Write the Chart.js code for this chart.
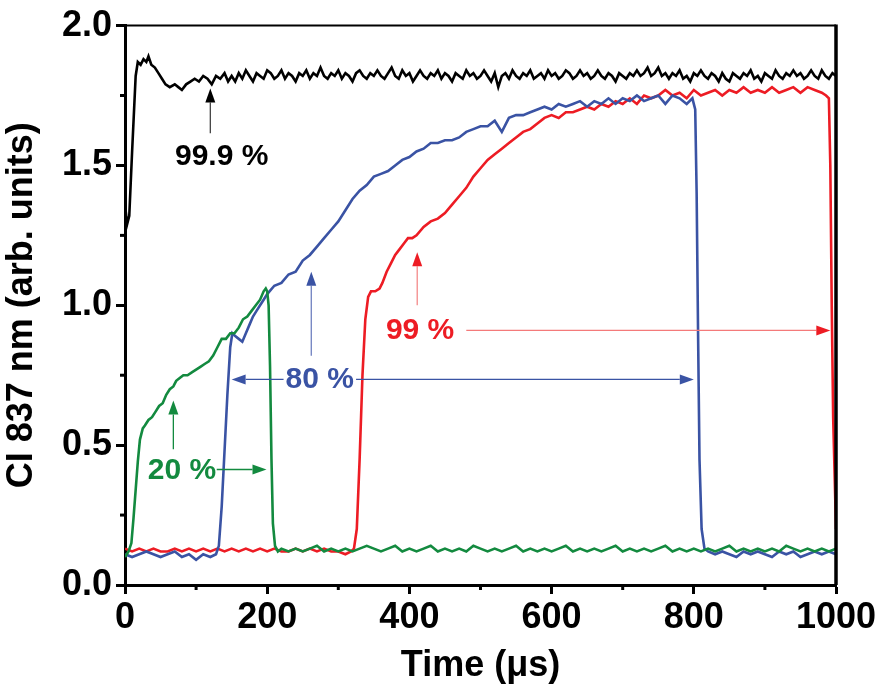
<!DOCTYPE html>
<html>
<head>
<meta charset="utf-8">
<script src="https://cdn.jsdelivr.net/npm/chart.js@4.4.1/dist/chart.umd.min.js"></script>
<style>
  body { margin: 0; background: #fff; }
  #wrap { width: 879px; height: 688px; }
</style>
</head>
<body>
<div id="wrap"><canvas id="ci"></canvas></div>
<script>
// time in µs, signal in arb. units
const blackT = [0,3,6,10,15,18,22,26,30,33,37,42,47,52,57,63,70,75,80,86,92,98,104,110,116,122,128,134,140,145,
  150,155,160,165,170,175,180,185,190,195,200,205,210,215,220,225,230,235,240,245,
  250,255,260,265,270,275,280,285,290,295,300,305,310,315,320,325,330,335,340,345,
  350,355,360,365,370,375,380,385,390,395,400,405,410,415,420,425,430,435,440,445,
  450,455,460,465,470,475,480,485,490,495,500,505,510,515,520,525,530,535,540,545,
  550,555,560,565,570,575,580,585,590,595,600,605,610,615,620,625,630,635,640,645,
  650,655,660,665,670,675,680,685,690,695,700,705,710,715,720,725,730,735,740,745,
  750,755,760,765,770,775,780,785,790,795,800,805,810,815,820,825,830,835,840,845,
  850,855,860,865,870,875,880,885,890,895,900,905,910,915,920,925,930,935,940,945,
  950,955,960,965,970,975,980,985,990,995,1000];
const blackV = [1.36,1.29,1.32,1.55,1.82,1.87,1.86,1.88,1.87,1.89,1.86,1.85,1.83,1.81,1.79,1.78,1.79,1.78,1.77,1.79,1.80,1.81,1.80,1.82,1.81,1.79,1.82,1.81,1.83,1.80,
  1.82,1.80,1.83,1.81,1.84,1.82,1.80,1.83,1.82,1.81,1.84,1.83,1.81,1.82,1.84,1.81,1.83,1.82,1.80,1.83,
  1.82,1.84,1.81,1.83,1.82,1.85,1.82,1.81,1.83,1.82,1.84,1.81,1.83,1.82,1.80,1.83,1.84,1.82,1.81,1.83,
  1.82,1.84,1.82,1.81,1.83,1.85,1.82,1.81,1.84,1.82,1.83,1.80,1.82,1.84,1.82,1.81,1.83,1.82,1.84,1.81,
  1.83,1.82,1.80,1.83,1.82,1.81,1.84,1.82,1.83,1.81,1.82,1.84,1.82,1.80,1.83,1.78,1.82,1.83,1.81,1.84,
  1.82,1.81,1.83,1.82,1.84,1.81,1.82,1.83,1.81,1.84,1.82,1.83,1.81,1.82,1.84,1.83,1.81,1.82,1.84,1.82,
  1.83,1.81,1.82,1.84,1.82,1.81,1.83,1.82,1.80,1.83,1.82,1.81,1.83,1.82,1.84,1.82,1.83,1.85,1.82,1.83,
  1.85,1.82,1.83,1.81,1.83,1.82,1.84,1.81,1.82,1.80,1.83,1.82,1.84,1.82,1.81,1.83,1.82,1.80,1.83,1.81,
  1.80,1.83,1.82,1.81,1.83,1.82,1.84,1.81,1.82,1.80,1.83,1.82,1.81,1.84,1.82,1.81,1.83,1.82,1.84,1.82,
  1.83,1.81,1.82,1.84,1.82,1.81,1.84,1.82,1.81,1.83,1.82];

const greenT = [0,5,9,12,15,18,21,25,28,33,38,43,48,53,58,63,68,72,77,82,88,94,100,106,112,118,124,130,136,142,148,154,160,166,172,178,184,190,195,198,200,202,204,206,208,211,215,220,
  230,240,250,260,270,280,290,300,310,320,330,340,350,360,370,380,390,400,410,420,430,440,450,460,470,480,490,
  500,510,520,530,540,550,560,570,580,590,600,610,620,630,640,650,660,670,680,690,700,710,720,730,740,750,
  760,770,780,790,800,810,820,830,840,850,860,870,880,890,900,910,920,930,940,950,960,970,980,990,1000];
const greenV = [0.10,0.12,0.15,0.24,0.34,0.44,0.52,0.56,0.57,0.59,0.60,0.62,0.64,0.65,0.68,0.70,0.71,0.73,0.74,0.75,0.75,0.76,0.77,0.78,0.79,0.80,0.82,0.85,0.88,0.88,0.90,0.90,0.92,0.95,0.96,0.98,1.00,1.02,1.05,1.06,1.05,1.00,0.78,0.45,0.22,0.14,0.12,0.13,
  0.12,0.13,0.12,0.13,0.14,0.12,0.13,0.12,0.13,0.12,0.13,0.14,0.13,0.12,0.13,0.14,0.12,0.13,0.12,0.13,0.14,0.12,0.13,0.12,0.13,0.12,0.14,
  0.13,0.12,0.13,0.12,0.13,0.14,0.12,0.13,0.12,0.13,0.12,0.13,0.14,0.12,0.13,0.12,0.13,0.12,0.13,0.14,0.12,0.13,0.12,0.13,0.12,0.13,
  0.14,0.12,0.13,0.12,0.13,0.12,0.13,0.12,0.13,0.14,0.12,0.13,0.12,0.13,0.12,0.13,0.12,0.14,0.13,0.12,0.13,0.12,0.13,0.12,0.13];

const blueT = [0,10,20,30,40,50,60,70,80,90,100,110,120,128,132,136,140,144,148,151,155,160,165,170,175,180,185,190,195,200,
  210,220,230,240,250,260,270,280,290,300,310,320,330,340,350,360,370,380,390,400,410,420,430,440,450,460,470,480,490,
  500,510,520,530,540,550,560,570,580,590,600,610,620,630,640,650,660,670,680,690,700,710,720,730,740,750,760,770,780,790,
  798,802,804,806,808,811,815,820,830,840,850,860,870,880,890,900,910,920,930,940,950,960,970,980,990,1000];
const blueV = [0.11,0.10,0.11,0.12,0.11,0.10,0.11,0.12,0.10,0.11,0.09,0.11,0.10,0.11,0.14,0.28,0.48,0.68,0.85,0.90,0.89,0.88,0.87,0.90,0.93,0.96,0.98,1.00,1.02,1.04,
  1.07,1.08,1.11,1.12,1.16,1.18,1.21,1.24,1.27,1.30,1.34,1.38,1.41,1.43,1.46,1.47,1.48,1.50,1.52,1.53,1.55,1.56,1.58,1.58,1.59,1.59,1.60,1.62,1.63,
  1.64,1.64,1.66,1.62,1.67,1.68,1.68,1.69,1.70,1.71,1.70,1.72,1.71,1.72,1.73,1.71,1.73,1.72,1.74,1.72,1.74,1.73,1.75,1.73,1.74,1.75,1.72,1.75,1.74,1.72,
  1.74,1.70,1.40,0.90,0.45,0.20,0.13,0.12,0.11,0.12,0.11,0.10,0.12,0.11,0.12,0.11,0.10,0.12,0.11,0.12,0.10,0.11,0.12,0.11,0.12,0.11];

const redT = [0,10,20,30,40,50,60,70,80,90,100,110,120,130,140,150,160,170,180,190,200,210,220,230,240,250,260,270,280,290,300,310,318,
  322,326,330,334,338,342,346,352,358,362,368,374,380,386,392,398,404,410,420,430,440,450,460,470,480,490,
  500,510,520,530,540,550,560,570,580,590,600,610,620,630,640,650,660,670,680,690,700,710,720,730,740,750,760,770,780,790,
  800,810,820,830,840,850,860,870,880,890,900,910,920,930,940,950,960,970,980,986,990,992,994,996,1000];
const redV = [0.13,0.12,0.13,0.12,0.13,0.12,0.12,0.13,0.12,0.13,0.12,0.13,0.12,0.13,0.12,0.13,0.12,0.13,0.12,0.13,0.12,0.13,0.12,0.12,0.13,0.12,0.13,0.12,0.13,0.12,0.12,0.11,0.12,
  0.13,0.20,0.45,0.75,0.95,1.03,1.05,1.05,1.06,1.08,1.12,1.15,1.18,1.20,1.22,1.24,1.24,1.25,1.28,1.30,1.31,1.33,1.36,1.39,1.42,1.46,
  1.49,1.52,1.54,1.56,1.58,1.60,1.62,1.63,1.65,1.67,1.68,1.67,1.69,1.69,1.70,1.71,1.70,1.72,1.71,1.73,1.72,1.74,1.72,1.75,1.74,1.75,1.77,1.75,1.76,1.74,
  1.77,1.75,1.76,1.77,1.75,1.77,1.76,1.78,1.76,1.77,1.76,1.78,1.76,1.77,1.78,1.76,1.78,1.77,1.76,1.75,1.74,1.50,1.00,0.60,0.20];

const xTicks = [0, 200, 400, 600, 800, 1000];
const xMinor = [100, 300, 500, 700, 900];
const yTicks = [0.0, 0.5, 1.0, 1.5, 2.0];
const yMinor = [0.25, 0.75, 1.25, 1.75];

const BLACK = "#000000", RED = "#ed1c24", BLUE = "#3a53a4", GREEN = "#138a3f";

// annotations in data units
const notes = [
    {text: "99.9 %", x: 136, y: 1.53, color: BLACK},
    {text: "20 %", x: 80, y: 0.41, color: GREEN},
    {text: "80 %", x: 274, y: 0.735, color: BLUE},
    {text: "99 %", x: 415, y: 0.91, color: RED}
];
const arrows = [
    {from: [120, 1.615], to: [120, 1.775], line: "#444", head: BLACK},
    {from: [68, 0.485], to: [68, 0.66], line: GREEN, head: GREEN},
    {from: [129, 0.413], to: [199, 0.413], line: GREEN, head: GREEN},
    {from: [262, 0.82], to: [262, 1.12], line: "#6f80c0", head: BLUE},
    {from: [223, 0.735], to: [150, 0.735], line: BLUE, head: BLUE},
    {from: [325, 0.735], to: [800, 0.735], line: BLUE, head: BLUE},
    {from: [411, 1.0], to: [411, 1.19], line: "#f48a8a", head: RED},
    {from: [480, 0.91], to: [992, 0.91], line: "#f47a7a", head: RED}
];

const toXY = (ts, vs)=> ts.map((t, i)=> ({x: t, y: vs[i]}));

const line = (label, ts, vs, color, order)=> ({
    label: label,
    data: toXY(ts, vs),
    borderColor: color,
    borderWidth: 2.6,
    pointRadius: 0,
    tension: 0,
    order: order
});

const extras = {
    id: "extras",
    afterDatasetsDraw(chart) {
        const ctx = chart.ctx, a = chart.chartArea;
        const sx = chart.scales.x, sy = chart.scales.y;
        ctx.save();
        // box: top and right
        ctx.strokeStyle = BLACK;
        ctx.lineWidth = 2;
        ctx.beginPath();
        ctx.moveTo(a.left, a.top);
        ctx.lineTo(a.right, a.top);
        ctx.stroke();
        ctx.lineWidth = 3.5;
        ctx.beginPath();
        ctx.moveTo(a.right, a.top - 1);
        ctx.lineTo(a.right, a.bottom);
        ctx.stroke();
        // minor ticks
        ctx.lineWidth = 3;
        xMinor.forEach(v=> {
            const px = sx.getPixelForValue(v);
            ctx.beginPath();
            ctx.moveTo(px, a.bottom);
            ctx.lineTo(px, a.bottom + 5);
            ctx.stroke();
        });
        yMinor.forEach(v=> {
            const py = sy.getPixelForValue(v);
            ctx.beginPath();
            ctx.moveTo(a.left, py);
            ctx.lineTo(a.left - 5, py);
            ctx.stroke();
        });
        // arrows
        arrows.forEach(ar=> {
            const x0 = sx.getPixelForValue(ar.from[0]), y0 = sy.getPixelForValue(ar.from[1]);
            const x1 = sx.getPixelForValue(ar.to[0]), y1 = sy.getPixelForValue(ar.to[1]);
            const ang = Math.atan2(y1 - y0, x1 - x0);
            const hl = 14, hw = 5;
            const bx = x1 - hl * Math.cos(ang), by = y1 - hl * Math.sin(ang);
            ctx.strokeStyle = ar.line;
            ctx.lineWidth = 1.3;
            ctx.beginPath();
            ctx.moveTo(x0, y0);
            ctx.lineTo(bx, by);
            ctx.stroke();
            ctx.fillStyle = ar.head;
            ctx.beginPath();
            ctx.moveTo(x1, y1);
            ctx.lineTo(bx + hw * Math.sin(ang), by - hw * Math.cos(ang));
            ctx.lineTo(bx - hw * Math.sin(ang), by + hw * Math.cos(ang));
            ctx.closePath();
            ctx.fill();
        });
        // labels
        ctx.font = "bold 30px 'Liberation Sans', Arial, sans-serif";
        ctx.textAlign = "center";
        ctx.textBaseline = "middle";
        notes.forEach(n=> {
            ctx.fillStyle = n.color;
            ctx.fillText(n.text, sx.getPixelForValue(n.x), sy.getPixelForValue(n.y));
        });
        ctx.restore();
    }
};

const tickFont = {family: "'Liberation Sans', Arial, sans-serif", size: 36, weight: "bold"};

new Chart("ci", {
    type: "line",
    data: {
        datasets: [
            line("99.9 %", blackT, blackV, BLACK, 3),
            line("99 %", redT, redV, RED, 2),
            line("80 %", blueT, blueV, BLUE, 1),
            line("20 %", greenT, greenV, GREEN, 0)
        ]
    },
    options: {
        responsive: true,
        maintainAspectRatio: false,
        animation: false,
        layout: {padding: {top: 19, right: 43, left: 0, bottom: 0}},
        plugins: {legend: {display: false}, tooltip: {enabled: false}},
        scales: {
            x: {
                type: "linear",
                min: 0, max: 1000,
                afterFit: (s)=> { s.height = 103; },
                afterBuildTicks: (s)=> { s.ticks = xTicks.map(v=> ({value: v})); },
                ticks: {color: BLACK, font: tickFont, padding: 2, autoSkip: false, maxRotation: 0, callback: (v)=> String(v)},
                grid: {drawOnChartArea: false, tickLength: 9, tickWidth: 3, tickColor: BLACK},
                border: {color: BLACK, width: 3},
                title: {display: true, text: "Time (μs)", color: BLACK, font: tickFont, padding: {top: 0, bottom: 0}}
            },
            y: {
                min: 0, max: 2,
                afterFit: (s)=> { s.width = 125; },
                afterBuildTicks: (s)=> { s.ticks = yTicks.map(v=> ({value: v})); },
                ticks: {color: BLACK, font: tickFont, padding: 4, callback: (v)=> v.toFixed(1)},
                grid: {drawOnChartArea: false, tickLength: 9, tickWidth: 3, tickColor: BLACK},
                border: {color: BLACK, width: 3},
                title: {display: true, text: "CI 837 nm (arb. units)", color: BLACK, font: tickFont, padding: {top: 0, bottom: 0}}
            }
        }
    },
    plugins: [extras]
});
</script>
</body>
</html>
